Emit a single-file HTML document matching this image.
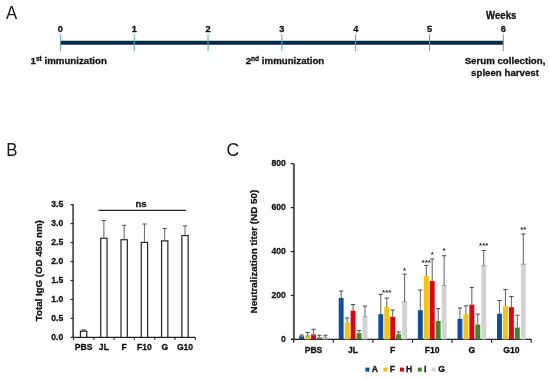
<!DOCTYPE html>
<html><head><meta charset="utf-8"><title>Figure</title>
<style>
html,body{margin:0;padding:0;background:#fff;}
body{width:550px;height:380px;overflow:hidden;}
svg{display:block;font-family:"Liberation Sans", Arial, sans-serif;}
text{stroke:#111;stroke-width:0.28px;}
text.n{stroke:none;}
</style></head>
<body>
<svg width="550" height="380" viewBox="0 0 550 380">
<rect x="0" y="0" width="550" height="380" fill="#fff"/>
<text transform="translate(6.10,19.20) scale(1,1.05)" font-size="16.8" font-weight="normal" text-anchor="start" fill="#1a1a1a" class="n">A</text>
<line x1="60.40" y1="42.80" x2="503.32" y2="42.80" stroke="#05294b" stroke-width="4.1" />
<line x1="60.40" y1="34.30" x2="60.40" y2="51.20" stroke="#5aa8b8" stroke-width="1.0" />
<text transform="translate(60.40,31.60) scale(1,1.08)" font-size="9.2" font-weight="bold" text-anchor="middle" fill="#111" >0</text>
<line x1="134.22" y1="34.30" x2="134.22" y2="51.20" stroke="#5aa8b8" stroke-width="1.0" />
<text transform="translate(134.22,31.60) scale(1,1.08)" font-size="9.2" font-weight="bold" text-anchor="middle" fill="#111" >1</text>
<line x1="208.04" y1="34.30" x2="208.04" y2="51.20" stroke="#5aa8b8" stroke-width="1.0" />
<text transform="translate(208.04,31.60) scale(1,1.08)" font-size="9.2" font-weight="bold" text-anchor="middle" fill="#111" >2</text>
<line x1="281.86" y1="34.30" x2="281.86" y2="51.20" stroke="#5aa8b8" stroke-width="1.0" />
<text transform="translate(281.86,31.60) scale(1,1.08)" font-size="9.2" font-weight="bold" text-anchor="middle" fill="#111" >3</text>
<line x1="355.68" y1="34.30" x2="355.68" y2="51.20" stroke="#5aa8b8" stroke-width="1.0" />
<text transform="translate(355.68,31.60) scale(1,1.08)" font-size="9.2" font-weight="bold" text-anchor="middle" fill="#111" >4</text>
<line x1="429.50" y1="34.30" x2="429.50" y2="51.20" stroke="#5aa8b8" stroke-width="1.0" />
<text transform="translate(429.50,31.60) scale(1,1.08)" font-size="9.2" font-weight="bold" text-anchor="middle" fill="#111" >5</text>
<line x1="503.32" y1="34.30" x2="503.32" y2="51.20" stroke="#5aa8b8" stroke-width="1.0" />
<text transform="translate(503.32,31.60) scale(1,1.08)" font-size="9.2" font-weight="bold" text-anchor="middle" fill="#111" >6</text>
<text transform="translate(501.20,18.60) scale(1,1.08)" font-size="9.6" font-weight="bold" text-anchor="middle" fill="#111" >Weeks</text>
<text transform="translate(30.5,64.4) scale(1,1.0)" font-size="9.7" font-weight="bold" fill="#111">1<tspan font-size="6.6" dy="-3.0">st</tspan><tspan dy="3.0"> immunization</tspan></text>
<text transform="translate(245.7,64.3) scale(1,1.0)" font-size="9.7" font-weight="bold" fill="#111">2<tspan font-size="6.6" dy="-3.0">nd</tspan><tspan dy="3.0"> immunization</tspan></text>
<text transform="translate(505.00,64.40) scale(1,1.0)" font-size="9.7" font-weight="bold" text-anchor="middle" fill="#111" >Serum collection,</text>
<text transform="translate(505.00,76.10) scale(1,1.0)" font-size="9.7" font-weight="bold" text-anchor="middle" fill="#111" >spleen harvest</text>
<text transform="translate(6.20,156.00) scale(1,1.06)" font-size="16.8" font-weight="normal" text-anchor="start" fill="#1a1a1a" class="n">B</text>
<line x1="73.10" y1="204.00" x2="73.10" y2="338.00" stroke="#222" stroke-width="1.4" />
<line x1="70.60" y1="337.40" x2="73.10" y2="337.40" stroke="#222" stroke-width="1.2" />
<text transform="translate(63.20,340.00) scale(1,1.0)" font-size="8.6" font-weight="bold" text-anchor="end" fill="#111" >0.0</text>
<line x1="70.60" y1="318.43" x2="73.10" y2="318.43" stroke="#222" stroke-width="1.2" />
<text transform="translate(63.20,321.03) scale(1,1.0)" font-size="8.6" font-weight="bold" text-anchor="end" fill="#111" >0.5</text>
<line x1="70.60" y1="299.46" x2="73.10" y2="299.46" stroke="#222" stroke-width="1.2" />
<text transform="translate(63.20,302.06) scale(1,1.0)" font-size="8.6" font-weight="bold" text-anchor="end" fill="#111" >1.0</text>
<line x1="70.60" y1="280.49" x2="73.10" y2="280.49" stroke="#222" stroke-width="1.2" />
<text transform="translate(63.20,283.09) scale(1,1.0)" font-size="8.6" font-weight="bold" text-anchor="end" fill="#111" >1.5</text>
<line x1="70.60" y1="261.52" x2="73.10" y2="261.52" stroke="#222" stroke-width="1.2" />
<text transform="translate(63.20,264.12) scale(1,1.0)" font-size="8.6" font-weight="bold" text-anchor="end" fill="#111" >2.0</text>
<line x1="70.60" y1="242.55" x2="73.10" y2="242.55" stroke="#222" stroke-width="1.2" />
<text transform="translate(63.20,245.15) scale(1,1.0)" font-size="8.6" font-weight="bold" text-anchor="end" fill="#111" >2.5</text>
<line x1="70.60" y1="223.58" x2="73.10" y2="223.58" stroke="#222" stroke-width="1.2" />
<text transform="translate(63.20,226.18) scale(1,1.0)" font-size="8.6" font-weight="bold" text-anchor="end" fill="#111" >3.0</text>
<line x1="70.60" y1="204.61" x2="73.10" y2="204.61" stroke="#222" stroke-width="1.2" />
<text transform="translate(63.20,207.21) scale(1,1.0)" font-size="8.6" font-weight="bold" text-anchor="end" fill="#111" >3.5</text>
<line x1="72.50" y1="337.40" x2="195.30" y2="337.40" stroke="#222" stroke-width="1.4" />
<line x1="73.60" y1="337.40" x2="73.60" y2="339.70" stroke="#222" stroke-width="1.2" />
<line x1="93.88" y1="337.40" x2="93.88" y2="339.70" stroke="#222" stroke-width="1.2" />
<line x1="114.16" y1="337.40" x2="114.16" y2="339.70" stroke="#222" stroke-width="1.2" />
<line x1="134.44" y1="337.40" x2="134.44" y2="339.70" stroke="#222" stroke-width="1.2" />
<line x1="154.72" y1="337.40" x2="154.72" y2="339.70" stroke="#222" stroke-width="1.2" />
<line x1="175.00" y1="337.40" x2="175.00" y2="339.70" stroke="#222" stroke-width="1.2" />
<line x1="195.28" y1="337.40" x2="195.28" y2="339.70" stroke="#222" stroke-width="1.2" />
<line x1="83.60" y1="330.57" x2="83.60" y2="329.81" stroke="#666" stroke-width="1.0" />
<line x1="81.40" y1="329.81" x2="85.80" y2="329.81" stroke="#555" stroke-width="1.0" />
<rect x="80.45" y="331.17" width="6.3" height="6.23" fill="#fff" stroke="#222" stroke-width="1.2"/>
<text transform="translate(83.60,350.20) scale(1,1.0)" font-size="8.6" font-weight="bold" text-anchor="middle" fill="#111" >PBS</text>
<line x1="103.88" y1="237.62" x2="103.88" y2="220.54" stroke="#666" stroke-width="1.0" />
<line x1="101.68" y1="220.54" x2="106.08" y2="220.54" stroke="#555" stroke-width="1.0" />
<rect x="100.73" y="238.22" width="6.3" height="99.18" fill="#fff" stroke="#222" stroke-width="1.2"/>
<text transform="translate(103.88,350.20) scale(1,1.0)" font-size="8.6" font-weight="bold" text-anchor="middle" fill="#111" >JL</text>
<line x1="124.16" y1="239.14" x2="124.16" y2="225.29" stroke="#666" stroke-width="1.0" />
<line x1="121.96" y1="225.29" x2="126.36" y2="225.29" stroke="#555" stroke-width="1.0" />
<rect x="121.01" y="239.74" width="6.3" height="97.66" fill="#fff" stroke="#222" stroke-width="1.2"/>
<text transform="translate(124.16,350.20) scale(1,1.0)" font-size="8.6" font-weight="bold" text-anchor="middle" fill="#111" >F</text>
<line x1="144.44" y1="241.79" x2="144.44" y2="223.96" stroke="#666" stroke-width="1.0" />
<line x1="142.24" y1="223.96" x2="146.64" y2="223.96" stroke="#555" stroke-width="1.0" />
<rect x="141.29" y="242.39" width="6.3" height="95.01" fill="#fff" stroke="#222" stroke-width="1.2"/>
<text transform="translate(144.44,350.20) scale(1,1.0)" font-size="8.6" font-weight="bold" text-anchor="middle" fill="#111" >F10</text>
<line x1="164.72" y1="240.27" x2="164.72" y2="228.51" stroke="#666" stroke-width="1.0" />
<line x1="162.52" y1="228.51" x2="166.92" y2="228.51" stroke="#555" stroke-width="1.0" />
<rect x="161.57" y="240.87" width="6.3" height="96.53" fill="#fff" stroke="#222" stroke-width="1.2"/>
<text transform="translate(164.72,350.20) scale(1,1.0)" font-size="8.6" font-weight="bold" text-anchor="middle" fill="#111" >G</text>
<line x1="185.00" y1="234.96" x2="185.00" y2="225.86" stroke="#666" stroke-width="1.0" />
<line x1="182.80" y1="225.86" x2="187.20" y2="225.86" stroke="#555" stroke-width="1.0" />
<rect x="181.85" y="235.56" width="6.3" height="101.84" fill="#fff" stroke="#222" stroke-width="1.2"/>
<text transform="translate(185.00,350.20) scale(1,1.0)" font-size="8.6" font-weight="bold" text-anchor="middle" fill="#111" >G10</text>
<line x1="98.40" y1="210.40" x2="185.90" y2="210.40" stroke="#222" stroke-width="1.2" />
<text transform="translate(141.00,206.90) scale(1,1.0)" font-size="9.6" font-weight="bold" text-anchor="middle" fill="#111" >ns</text>
<text transform="translate(42.0,270.7) rotate(-90)" font-size="9.7" font-weight="bold" text-anchor="middle" fill="#111">Total IgG (OD 450 nm)</text>
<text transform="translate(226.60,156.00) scale(1,1.04)" font-size="17.6" font-weight="normal" text-anchor="start" fill="#1a1a1a" class="n">C</text>
<line x1="293.90" y1="163.50" x2="293.90" y2="340.00" stroke="#555" stroke-width="2.0" />
<line x1="290.70" y1="339.40" x2="293.70" y2="339.40" stroke="#222" stroke-width="1.2" />
<text transform="translate(285.90,342.10) scale(1,1.0)" font-size="8.6" font-weight="bold" text-anchor="end" fill="#111" >0</text>
<line x1="290.70" y1="295.48" x2="293.70" y2="295.48" stroke="#222" stroke-width="1.2" />
<text transform="translate(285.90,298.18) scale(1,1.0)" font-size="8.6" font-weight="bold" text-anchor="end" fill="#111" >200</text>
<line x1="290.70" y1="251.55" x2="293.70" y2="251.55" stroke="#222" stroke-width="1.2" />
<text transform="translate(285.90,254.25) scale(1,1.0)" font-size="8.6" font-weight="bold" text-anchor="end" fill="#111" >400</text>
<line x1="290.70" y1="207.63" x2="293.70" y2="207.63" stroke="#222" stroke-width="1.2" />
<text transform="translate(285.90,210.33) scale(1,1.0)" font-size="8.6" font-weight="bold" text-anchor="end" fill="#111" >600</text>
<line x1="290.70" y1="163.70" x2="293.70" y2="163.70" stroke="#222" stroke-width="1.2" />
<text transform="translate(285.90,166.40) scale(1,1.0)" font-size="8.6" font-weight="bold" text-anchor="end" fill="#111" >800</text>
<line x1="291.00" y1="339.40" x2="531.50" y2="339.40" stroke="#222" stroke-width="1.4" />
<line x1="293.70" y1="339.40" x2="293.70" y2="342.70" stroke="#222" stroke-width="1.2" />
<line x1="333.28" y1="339.40" x2="333.28" y2="342.70" stroke="#222" stroke-width="1.2" />
<line x1="372.86" y1="339.40" x2="372.86" y2="342.70" stroke="#222" stroke-width="1.2" />
<line x1="412.44" y1="339.40" x2="412.44" y2="342.70" stroke="#222" stroke-width="1.2" />
<line x1="452.02" y1="339.40" x2="452.02" y2="342.70" stroke="#222" stroke-width="1.2" />
<line x1="491.60" y1="339.40" x2="491.60" y2="342.70" stroke="#222" stroke-width="1.2" />
<line x1="531.18" y1="339.40" x2="531.18" y2="342.70" stroke="#222" stroke-width="1.2" />
<rect x="299.15" y="335.89" width="4.90" height="3.51" fill="#0b4ea2" />
<line x1="301.60" y1="335.89" x2="301.60" y2="335.01" stroke="#6e6e6e" stroke-width="1.1" />
<line x1="299.50" y1="335.01" x2="303.70" y2="335.01" stroke="#444" stroke-width="1.0" />
<line x1="299.60" y1="336.39" x2="303.60" y2="336.39" stroke="#888" stroke-width="0.9" />
<rect x="305.10" y="335.45" width="4.90" height="3.95" fill="#ffc000" />
<line x1="307.55" y1="335.45" x2="307.55" y2="332.59" stroke="#6e6e6e" stroke-width="1.1" />
<line x1="305.45" y1="332.59" x2="309.65" y2="332.59" stroke="#444" stroke-width="1.0" />
<line x1="305.55" y1="335.95" x2="309.55" y2="335.95" stroke="#888" stroke-width="0.9" />
<rect x="311.05" y="334.35" width="4.90" height="5.05" fill="#e3000f" />
<line x1="313.50" y1="334.35" x2="313.50" y2="329.30" stroke="#6e6e6e" stroke-width="1.1" />
<line x1="311.40" y1="329.30" x2="315.60" y2="329.30" stroke="#444" stroke-width="1.0" />
<line x1="311.50" y1="334.85" x2="315.50" y2="334.85" stroke="#888" stroke-width="0.9" />
<rect x="317.00" y="337.42" width="4.90" height="1.98" fill="#3a8a2a" />
<line x1="319.45" y1="337.42" x2="319.45" y2="335.23" stroke="#6e6e6e" stroke-width="1.1" />
<line x1="317.35" y1="335.23" x2="321.55" y2="335.23" stroke="#444" stroke-width="1.0" />
<line x1="317.45" y1="337.92" x2="321.45" y2="337.92" stroke="#888" stroke-width="0.9" />
<rect x="322.95" y="337.42" width="4.90" height="1.98" fill="#d3d3d3" />
<line x1="325.40" y1="337.42" x2="325.40" y2="335.23" stroke="#6e6e6e" stroke-width="1.1" />
<line x1="323.30" y1="335.23" x2="327.50" y2="335.23" stroke="#444" stroke-width="1.0" />
<line x1="323.40" y1="337.92" x2="327.40" y2="337.92" stroke="#888" stroke-width="0.9" />
<text transform="translate(313.50,352.60) scale(1,1.0)" font-size="8.6" font-weight="bold" text-anchor="middle" fill="#111" >PBS</text>
<rect x="338.73" y="297.89" width="4.90" height="41.51" fill="#0b4ea2" />
<line x1="341.18" y1="297.89" x2="341.18" y2="291.08" stroke="#6e6e6e" stroke-width="1.1" />
<line x1="339.08" y1="291.08" x2="343.28" y2="291.08" stroke="#444" stroke-width="1.0" />
<rect x="344.68" y="322.71" width="4.90" height="16.69" fill="#ffc000" />
<line x1="347.13" y1="322.71" x2="347.13" y2="317.88" stroke="#6e6e6e" stroke-width="1.1" />
<line x1="345.03" y1="317.88" x2="349.23" y2="317.88" stroke="#444" stroke-width="1.0" />
<rect x="350.63" y="310.63" width="4.90" height="28.77" fill="#e3000f" />
<line x1="353.08" y1="310.63" x2="353.08" y2="304.48" stroke="#6e6e6e" stroke-width="1.1" />
<line x1="350.98" y1="304.48" x2="355.18" y2="304.48" stroke="#444" stroke-width="1.0" />
<rect x="356.58" y="333.25" width="4.90" height="6.15" fill="#3a8a2a" />
<line x1="359.03" y1="333.25" x2="359.03" y2="330.62" stroke="#6e6e6e" stroke-width="1.1" />
<line x1="356.93" y1="330.62" x2="361.13" y2="330.62" stroke="#444" stroke-width="1.0" />
<rect x="362.53" y="316.12" width="4.90" height="23.28" fill="#d3d3d3" />
<line x1="364.98" y1="316.12" x2="364.98" y2="306.02" stroke="#6e6e6e" stroke-width="1.1" />
<line x1="362.88" y1="306.02" x2="367.08" y2="306.02" stroke="#444" stroke-width="1.0" />
<line x1="362.98" y1="316.62" x2="366.98" y2="316.62" stroke="#888" stroke-width="0.9" />
<text transform="translate(353.08,352.60) scale(1,1.0)" font-size="8.6" font-weight="bold" text-anchor="middle" fill="#111" >JL</text>
<rect x="378.31" y="314.14" width="4.90" height="25.26" fill="#0b4ea2" />
<line x1="380.76" y1="314.14" x2="380.76" y2="294.38" stroke="#6e6e6e" stroke-width="1.1" />
<line x1="378.66" y1="294.38" x2="382.86" y2="294.38" stroke="#444" stroke-width="1.0" />
<rect x="384.26" y="306.90" width="4.90" height="32.50" fill="#ffc000" />
<line x1="386.71" y1="306.90" x2="386.71" y2="298.11" stroke="#6e6e6e" stroke-width="1.1" />
<line x1="384.61" y1="298.11" x2="388.81" y2="298.11" stroke="#444" stroke-width="1.0" />
<text transform="translate(386.71,295.10) scale(1,1.0)" font-size="8.0" font-weight="bold" text-anchor="middle" fill="#2a2a2a" class="n">***</text>
<rect x="390.21" y="316.78" width="4.90" height="22.62" fill="#e3000f" />
<line x1="392.66" y1="316.78" x2="392.66" y2="309.97" stroke="#6e6e6e" stroke-width="1.1" />
<line x1="390.56" y1="309.97" x2="394.76" y2="309.97" stroke="#444" stroke-width="1.0" />
<rect x="396.16" y="334.13" width="4.90" height="5.27" fill="#3a8a2a" />
<line x1="398.61" y1="334.13" x2="398.61" y2="331.93" stroke="#6e6e6e" stroke-width="1.1" />
<line x1="396.51" y1="331.93" x2="400.71" y2="331.93" stroke="#444" stroke-width="1.0" />
<rect x="402.11" y="301.19" width="4.90" height="38.21" fill="#d3d3d3" />
<line x1="404.56" y1="301.19" x2="404.56" y2="274.17" stroke="#6e6e6e" stroke-width="1.1" />
<line x1="402.46" y1="274.17" x2="406.66" y2="274.17" stroke="#444" stroke-width="1.0" />
<line x1="402.56" y1="301.69" x2="406.56" y2="301.69" stroke="#888" stroke-width="0.9" />
<text transform="translate(404.56,273.30) scale(1,1.0)" font-size="8.0" font-weight="bold" text-anchor="middle" fill="#2a2a2a" class="n">*</text>
<text transform="translate(392.66,352.60) scale(1,1.0)" font-size="8.6" font-weight="bold" text-anchor="middle" fill="#111" >F</text>
<rect x="417.89" y="310.19" width="4.90" height="29.21" fill="#0b4ea2" />
<line x1="420.34" y1="310.19" x2="420.34" y2="289.99" stroke="#6e6e6e" stroke-width="1.1" />
<line x1="418.24" y1="289.99" x2="422.44" y2="289.99" stroke="#444" stroke-width="1.0" />
<rect x="423.84" y="275.93" width="4.90" height="63.47" fill="#ffc000" />
<line x1="426.29" y1="275.93" x2="426.29" y2="265.39" stroke="#6e6e6e" stroke-width="1.1" />
<line x1="424.19" y1="265.39" x2="428.39" y2="265.39" stroke="#444" stroke-width="1.0" />
<text transform="translate(426.29,264.90) scale(1,1.0)" font-size="8.0" font-weight="bold" text-anchor="middle" fill="#2a2a2a" class="n">***</text>
<rect x="429.79" y="280.98" width="4.90" height="58.42" fill="#e3000f" />
<line x1="432.24" y1="280.98" x2="432.24" y2="259.02" stroke="#6e6e6e" stroke-width="1.1" />
<line x1="430.14" y1="259.02" x2="434.34" y2="259.02" stroke="#444" stroke-width="1.0" />
<text transform="translate(432.24,257.10) scale(1,1.0)" font-size="8.0" font-weight="bold" text-anchor="middle" fill="#2a2a2a" class="n">*</text>
<rect x="435.74" y="320.95" width="4.90" height="18.45" fill="#3a8a2a" />
<line x1="438.19" y1="320.95" x2="438.19" y2="308.65" stroke="#6e6e6e" stroke-width="1.1" />
<line x1="436.09" y1="308.65" x2="440.29" y2="308.65" stroke="#444" stroke-width="1.0" />
<rect x="441.69" y="285.15" width="4.90" height="54.25" fill="#d3d3d3" />
<line x1="444.14" y1="285.15" x2="444.14" y2="255.72" stroke="#6e6e6e" stroke-width="1.1" />
<line x1="442.04" y1="255.72" x2="446.24" y2="255.72" stroke="#444" stroke-width="1.0" />
<line x1="442.14" y1="285.65" x2="446.14" y2="285.65" stroke="#888" stroke-width="0.9" />
<text transform="translate(444.14,253.30) scale(1,1.0)" font-size="8.0" font-weight="bold" text-anchor="middle" fill="#2a2a2a" class="n">*</text>
<text transform="translate(432.24,352.60) scale(1,1.0)" font-size="8.6" font-weight="bold" text-anchor="middle" fill="#111" >F10</text>
<rect x="457.47" y="318.76" width="4.90" height="20.64" fill="#0b4ea2" />
<line x1="459.92" y1="318.76" x2="459.92" y2="307.99" stroke="#6e6e6e" stroke-width="1.1" />
<line x1="457.82" y1="307.99" x2="462.02" y2="307.99" stroke="#444" stroke-width="1.0" />
<rect x="463.42" y="313.92" width="4.90" height="25.48" fill="#ffc000" />
<line x1="465.87" y1="313.92" x2="465.87" y2="305.80" stroke="#6e6e6e" stroke-width="1.1" />
<line x1="463.77" y1="305.80" x2="467.97" y2="305.80" stroke="#444" stroke-width="1.0" />
<rect x="469.37" y="304.70" width="4.90" height="34.70" fill="#e3000f" />
<line x1="471.82" y1="304.70" x2="471.82" y2="287.57" stroke="#6e6e6e" stroke-width="1.1" />
<line x1="469.72" y1="287.57" x2="473.92" y2="287.57" stroke="#444" stroke-width="1.0" />
<rect x="475.32" y="324.47" width="4.90" height="14.93" fill="#3a8a2a" />
<line x1="477.77" y1="324.47" x2="477.77" y2="314.14" stroke="#6e6e6e" stroke-width="1.1" />
<line x1="475.67" y1="314.14" x2="479.87" y2="314.14" stroke="#444" stroke-width="1.0" />
<rect x="481.27" y="265.39" width="4.90" height="74.01" fill="#d3d3d3" />
<line x1="483.72" y1="265.39" x2="483.72" y2="250.45" stroke="#6e6e6e" stroke-width="1.1" />
<line x1="481.62" y1="250.45" x2="485.82" y2="250.45" stroke="#444" stroke-width="1.0" />
<line x1="481.72" y1="265.89" x2="485.72" y2="265.89" stroke="#888" stroke-width="0.9" />
<text transform="translate(483.72,248.10) scale(1,1.0)" font-size="8.0" font-weight="bold" text-anchor="middle" fill="#2a2a2a" class="n">***</text>
<text transform="translate(471.82,352.60) scale(1,1.0)" font-size="8.6" font-weight="bold" text-anchor="middle" fill="#111" >G</text>
<rect x="497.05" y="313.70" width="4.90" height="25.70" fill="#0b4ea2" />
<line x1="499.50" y1="313.70" x2="499.50" y2="300.53" stroke="#6e6e6e" stroke-width="1.1" />
<line x1="497.40" y1="300.53" x2="501.60" y2="300.53" stroke="#444" stroke-width="1.0" />
<rect x="503.00" y="306.02" width="4.90" height="33.38" fill="#ffc000" />
<line x1="505.45" y1="306.02" x2="505.45" y2="289.55" stroke="#6e6e6e" stroke-width="1.1" />
<line x1="503.35" y1="289.55" x2="507.55" y2="289.55" stroke="#444" stroke-width="1.0" />
<rect x="508.95" y="307.12" width="4.90" height="32.28" fill="#e3000f" />
<line x1="511.40" y1="307.12" x2="511.40" y2="296.57" stroke="#6e6e6e" stroke-width="1.1" />
<line x1="509.30" y1="296.57" x2="513.50" y2="296.57" stroke="#444" stroke-width="1.0" />
<rect x="514.90" y="327.54" width="4.90" height="11.86" fill="#3a8a2a" />
<line x1="517.35" y1="327.54" x2="517.35" y2="315.24" stroke="#6e6e6e" stroke-width="1.1" />
<line x1="515.25" y1="315.24" x2="519.45" y2="315.24" stroke="#444" stroke-width="1.0" />
<rect x="520.85" y="263.63" width="4.90" height="75.77" fill="#d3d3d3" />
<line x1="523.30" y1="263.63" x2="523.30" y2="233.98" stroke="#6e6e6e" stroke-width="1.1" />
<line x1="521.20" y1="233.98" x2="525.40" y2="233.98" stroke="#444" stroke-width="1.0" />
<line x1="521.30" y1="264.13" x2="525.30" y2="264.13" stroke="#888" stroke-width="0.9" />
<text transform="translate(523.30,231.90) scale(1,1.0)" font-size="8.0" font-weight="bold" text-anchor="middle" fill="#2a2a2a" class="n">**</text>
<text transform="translate(511.40,352.60) scale(1,1.0)" font-size="8.6" font-weight="bold" text-anchor="middle" fill="#111" >G10</text>
<text transform="translate(256.9,251.6) rotate(-90)" font-size="9.85" font-weight="bold" text-anchor="middle" fill="#111">Neutralization titer (ND 50)</text>
<rect x="365.40" y="367.60" width="4.00" height="4.00" fill="#0b4ea2" />
<text transform="translate(371.70,371.60) scale(1,1.0)" font-size="8.6" font-weight="bold" text-anchor="start" fill="#111" >A</text>
<rect x="383.40" y="367.60" width="4.00" height="4.00" fill="#ffc000" />
<text transform="translate(389.70,371.60) scale(1,1.0)" font-size="8.6" font-weight="bold" text-anchor="start" fill="#111" >F</text>
<rect x="400.00" y="367.60" width="4.00" height="4.00" fill="#e3000f" />
<text transform="translate(406.00,371.60) scale(1,1.0)" font-size="8.6" font-weight="bold" text-anchor="start" fill="#111" >H</text>
<rect x="417.80" y="367.60" width="4.00" height="4.00" fill="#3a8a2a" />
<text transform="translate(424.10,371.60) scale(1,1.0)" font-size="8.6" font-weight="bold" text-anchor="start" fill="#111" >I</text>
<rect x="431.50" y="367.60" width="4.00" height="4.00" fill="#d3d3d3" />
<text transform="translate(438.20,371.60) scale(1,1.0)" font-size="8.6" font-weight="bold" text-anchor="start" fill="#111" >G</text>
</svg>
</body></html>
